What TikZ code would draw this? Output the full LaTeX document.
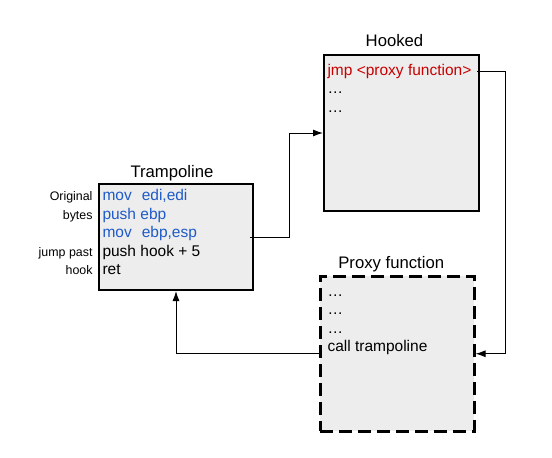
\documentclass[tikz,border=0pt]{standalone}
\usepackage{fontspec}
\setmainfont{Liberation Sans}
\usepackage{tikz}
\usetikzlibrary{positioning}
\usetikzlibrary{arrows.meta}
\definecolor{codeblue}{RGB}{30,90,200}
\definecolor{codered}{RGB}{200,0,0}
\definecolor{boxgray}{RGB}{237,237,237}

\begin{document}
\begin{tikzpicture}[
            x = 1pt, y = -1pt, % pixel grid, y going down
            > = {Latex[length=10pt,width=7pt]}, % arrow head style
            line width = 1pt % line style
        ]

        \tikzset{
            codebox/.style = {draw, line width = 2pt, fill = boxgray, inner sep = 0pt, anchor = north west},
            title/.style = {font = \fontsize{16.7}{20}\selectfont, inner sep = 0pt},
            code/.style = {font = \fontsize{15.5}{18.5}\selectfont, align = left, inner sep = 0pt, anchor = base west},
            side/.style = {font = \fontsize{12.4}{18.5}\selectfont, align = right, inner sep = 0pt, anchor = base east}
        }

        \useasboundingbox (0,0) rectangle (552,458);

	% boxes
        \node[codebox, minimum width = 154pt, minimum height = 106pt] (tramp) at (98,183) {};
        \node[codebox, minimum width = 155pt, minimum height = 156pt] (hooked) at (323,54) {};
        \node[codebox, line width = 2.5pt, dash pattern = on 13pt off 6pt, minimum width = 154pt, minimum height = 155pt] (proxy) at (319,275) {};

        % titles
        \node[title, above = 6pt of tramp.north, anchor = base, xshift = -4pt] (tramp title) {Trampoline};
        \node[title, above = 8pt of hooked.north, anchor = base, xshift = -7pt] (hooked title) {Hooked};
        \node[title, above = 7pt of proxy.north, anchor = base, xshift = -6pt] (proxy title) {Proxy function};

        % code lines (base = last line)
        \node[code] (tramp code) at ([shift={(4,91.7)}]tramp.north west)
            {\textcolor{codeblue}{mov\hspace{10pt}edi,edi}\\
             \textcolor{codeblue}{push ebp}\\
             \textcolor{codeblue}{mov\hspace{10pt}ebp,esp}\\
             push hook + 5\\
             ret};
        \node[code] (hooked code) at ([shift={(4,58)}]hooked.north west)
            {\textcolor{codered}{jmp <proxy function>}\\ …\\ …};
        \node[code] (proxy code) at ([shift={(8,76.5)}]proxy.north west)
            {…\\ …\\ …\\ call trampoline};

        % side notes
        \node[side] (orig) at ([shift={(-5,36.2)}]tramp.north west) {Original\\ bytes};
        \node[side] (past) at ([shift={(-5,91.5)}]tramp.north west) {jump past\\ hook};

        % connectors
        \coordinate (tramp out) at ([shift={(-4,54.5)}]tramp.north east);
        \coordinate (jmp out) at ([shift={(-3,17)}]hooked.north east);

        \draw[->] (tramp out) -- ++(39,0) |- (hooked.west);
        \draw[->] (jmp out) -- ++(28,0) |- (proxy.east);
        \draw[->] (proxy.west) -| (tramp.south);

  \end{tikzpicture}
\end{document}
